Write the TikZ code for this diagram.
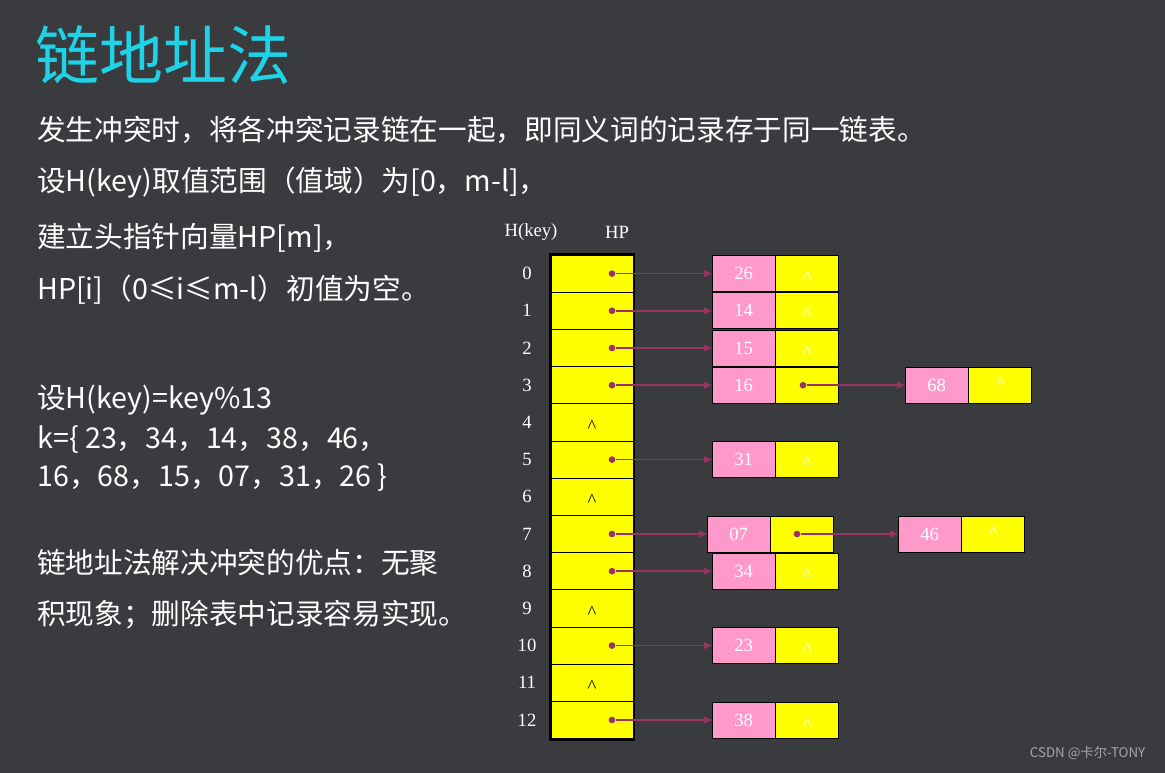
\documentclass[tikz,border=0pt]{standalone}
\usepackage{fontspec}
\setmainfont{Liberation Serif}
\newfontfamily\cjk{Noto Sans CJK SC}
\usetikzlibrary{arrows.meta}
\definecolor{bg}{HTML}{3A3B3F}
\definecolor{ttl}{HTML}{1FD3E6}
\definecolor{pk}{HTML}{FF99CC}
\definecolor{yl}{HTML}{FFFF00}
\definecolor{ar}{HTML}{993366}
\tikzset{
 txt/.style={anchor=west,text=white,font=\cjk\fontsize{21.5}{26}\selectfont,inner sep=0},
 num/.style={text=white,font=\fontsize{14}{16}\selectfont},
 hp/.style={fill=yl,draw=black,line width=0.6pt,minimum width=61.5pt,minimum height=27.9pt,inner sep=0},
 pkc/.style={fill=pk,draw=black,line width=0.6pt,minimum width=47pt,minimum height=27pt,inner sep=0,text=white,font=\fontsize{14}{16}\selectfont},
 ylc/.style={fill=yl,draw=black,line width=0.6pt,minimum width=47pt,minimum height=27pt,inner sep=0,text=white,font=\fontsize{14}{16}\selectfont},
 lnk/.style={draw=ar,line width=1.1pt,-{Triangle[length=6pt,width=5pt]}},
 dt/.style={circle,fill=ar,inner sep=0,minimum size=5pt}
}
\begin{document}
\begin{tikzpicture}[x=0.75pt,y=-0.75pt]
\fill[bg] (0,0) rectangle (1165,773);
\useasboundingbox (0,0) rectangle (1165,773);
\node[anchor=west,text=ttl,font=\cjk\fontsize{48}{52}\selectfont,inner sep=0] (t) at (35,55) {链地址法};
\node[txt] (l1) at (37,130) {发生冲突时，将各冲突记录链在一起，即同义词的记录存于同一链表。};
\node[txt] (l2) at (37,183) {设H(key)取值范围（值域）为[0，m-l]，};
\node[txt] (l3) at (37,238) {建立头指针向量HP[m]，};
\node[txt] (l4) at (37,290) {HP[i]（0≤i≤m-l）初值为空。};
\node[txt] (l5) at (37,400) {设H(key)=key\%13};
\node[txt] (l6) at (37,440) {k=\{ 23，34，14，38，46，};
\node[txt] (l7) at (37,478) {16，68，15，07，31，26 \}};
\node[txt] (l8) at (37,563) {链地址法解决冲突的优点：无聚};
\node[txt] (l9) at (37,615) {积现象；删除表中记录容易实现。};
\node[num] (hk) at (531,232) {H(key)};
\node[num] (hh) at (617,232) {HP};
\draw[black,line width=2.5pt] (551,255) rectangle (633,739);
\foreach \i in {0,...,12}{
  \pgfmathsetmacro\yy{273.6+37.2*\i}
  \node[hp] (h\i) at (592,\yy) {};
  \node[num] (n\i) at (527,\yy) {\i};
}
\foreach \i in {4,6,9,11}{\node[num,text=black] at ([yshift=-3pt]h\i.center) {\^{}};}
\foreach \i/\v/\dx in {0/26/0,1/14/0,2/15/0,3/16/0,5/31/0,7/07/-5,8/34/0,10/23/0,12/38/0}{
  \node[pkc,anchor=west] (p\i) at (712+\dx,0|-h\i) {\v};
  \node[ylc,anchor=west] (y\i) at (p\i.east) {};
  \node[dt] (d\i) at (612,0|-h\i) {};
  \draw[lnk] (d\i) -- (p\i.west);
}
\foreach \i in {0,1,2,5,8,10,12}{\node[text=white,font=\fontsize{14}{16}\selectfont] at ([yshift=-3pt]y\i.center) {\^{}};}
\node[pkc,anchor=west] (q3) at (905,0|-h3) {68};
\node[ylc,anchor=west] (r3) at (q3.east) {\raisebox{3pt}{\^{}}};
\node[dt] (e3) at (803,0|-h3) {};
\draw[lnk] (e3) -- (q3.west);
\node[pkc,anchor=west] (q7) at (898,0|-h7) {46};
\node[ylc,anchor=west] (r7) at (q7.east) {\raisebox{3pt}{\^{}}};
\node[dt] (e7) at (797,0|-h7) {};
\draw[lnk] (e7) -- (q7.west);
\node[anchor=east,text=gray!70,font=\cjk\fontsize{10}{12}\selectfont] (w) at (1150,753) {CSDN @卡尔-TONY};
\end{tikzpicture}
\end{document}
